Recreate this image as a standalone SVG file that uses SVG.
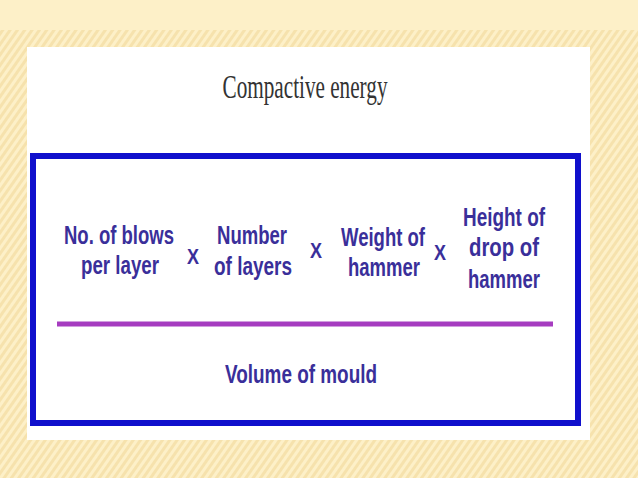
<svg xmlns="http://www.w3.org/2000/svg" width="638" height="478" viewBox="0 0 638 478">
<defs>
<pattern id="st" width="6" height="6" patternUnits="userSpaceOnUse" patternTransform="rotate(35)">
<rect width="6" height="6" fill="#fdf0c8"/><rect width="3" height="6" fill="#f6e2ad"/>
</pattern>
<style>
.t{font-family:"Liberation Sans",Arial,sans-serif;font-weight:bold;font-size:25px;fill:#3a2f9a;text-anchor:middle}
.x{font-family:"Liberation Sans",Arial,sans-serif;font-weight:bold;font-size:22px;fill:#3a2f9a;text-anchor:middle}
</style>
</defs>
<rect width="638" height="478" fill="url(#st)"/>
<rect width="638" height="30" fill="#fdf0c8"/>
<rect x="27" y="47" width="563" height="393" fill="#fff"/>
<text x="305" y="98" font-family="Liberation Serif,serif" font-size="33" fill="#333" text-anchor="middle" textLength="165" lengthAdjust="spacingAndGlyphs">Compactive energy</text>
<g id="frame"><rect x="33" y="156" width="545" height="267" fill="none" stroke="#1010cc" stroke-width="6"/></g>
<g id="n1"><text class="t" x="119" y="244" textLength="110" lengthAdjust="spacingAndGlyphs">No. of blows</text><text class="t" x="120" y="274" textLength="78" lengthAdjust="spacingAndGlyphs">per layer</text></g>
<text class="x" x="193" y="264" textLength="12" lengthAdjust="spacingAndGlyphs">X</text>
<g id="n2"><text class="t" x="252" y="244" textLength="70" lengthAdjust="spacingAndGlyphs">Number</text><text class="t" x="253" y="275" textLength="78" lengthAdjust="spacingAndGlyphs">of layers</text></g>
<text class="x" x="316" y="258" textLength="12" lengthAdjust="spacingAndGlyphs">X</text>
<g id="n3"><text class="t" x="383" y="246" textLength="84" lengthAdjust="spacingAndGlyphs">Weight of</text><text class="t" x="384" y="276" textLength="72" lengthAdjust="spacingAndGlyphs">hammer</text></g>
<text class="x" x="440" y="260" textLength="12" lengthAdjust="spacingAndGlyphs">X</text>
<g id="n4"><text class="t" x="504" y="226" textLength="82" lengthAdjust="spacingAndGlyphs">Height of</text><text class="t" x="504" y="256" textLength="70" lengthAdjust="spacingAndGlyphs">drop of</text><text class="t" x="504" y="288" textLength="72" lengthAdjust="spacingAndGlyphs">hammer</text></g>
<g id="connectors"><line x1="57" y1="324" x2="553" y2="324" stroke="#a63cc0" stroke-width="5"/></g>
<g id="n5"><text class="t" x="301" y="383" textLength="152" lengthAdjust="spacingAndGlyphs">Volume of mould</text></g>
</svg>
